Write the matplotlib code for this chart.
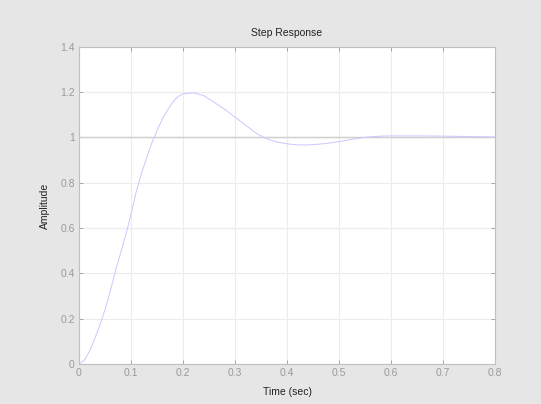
import matplotlib
matplotlib.use("Agg")
import matplotlib.pyplot as plt

time_s = [0, 0.01, 0.02, 0.03, 0.04, 0.05, 0.06, 0.07, 0.08, 0.09, 0.10, 0.11, 0.12,
          0.13, 0.14, 0.15, 0.16, 0.17, 0.18, 0.19, 0.20, 0.22, 0.24, 0.26, 0.28,
          0.30, 0.32, 0.34, 0.36, 0.38, 0.40, 0.42, 0.44, 0.46, 0.48, 0.50, 0.52,
          0.54, 0.56, 0.58, 0.60, 0.65, 0.70, 0.75, 0.80]
amplitude = [0, 0.015, 0.055, 0.11, 0.17, 0.24, 0.32, 0.41, 0.49, 0.57, 0.66, 0.76,
             0.84, 0.91, 0.975, 1.03, 1.08, 1.12, 1.155, 1.18, 1.193, 1.197, 1.185,
             1.155, 1.125, 1.09, 1.055, 1.02, 0.995, 0.98, 0.972, 0.967, 0.967,
             0.970, 0.975, 0.982, 0.990, 0.997, 1.003, 1.006, 1.007, 1.007, 1.006,
             1.004, 1.002]
x_ticks = [0, 0.1, 0.2, 0.3, 0.4, 0.5, 0.6, 0.7, 0.8]
x_tick_labels = ["0", "0.1", "0.2", "0.3", "0.4", "0.5", "0.6", "0.7", "0.8"]
y_ticks = [0, 0.2, 0.4, 0.6, 0.8, 1.0, 1.2, 1.4]
y_tick_labels = ["0", "0.2", "0.4", "0.6", "0.8", "1", "1.2", "1.4"]
final_value = 1.0

plt.rcParams['font.family'] = ['Liberation Sans', 'DejaVu Sans']

fig = plt.figure(figsize=(5.41, 4.04), dpi=100, facecolor='#e6e6e6')
ax = fig.add_axes([0.146, 0.099, 0.769, 0.785])
ax.set_facecolor('white')

ax.grid(True, color='#ececec', linewidth=0.8, linestyle='-')
ax.set_axisbelow(True)
ax.axhline(final_value, color='#cfcfcf', linewidth=1.0, zorder=1.5)
ax.plot(time_s, amplitude, color='#c8c8ff', linewidth=0.7, zorder=2)

ax.set_xlim(0, 0.8)
ax.set_ylim(0, 1.4)
ax.set_xticks(x_ticks)
ax.set_xticklabels(x_tick_labels)
ax.set_yticks(y_ticks)
ax.set_yticklabels(y_tick_labels)
ax.tick_params(direction='in', length=3, width=0.6, color='#999999',
               labelcolor='#9a9a9a', labelsize=7.5, top=True, right=True, pad=3)
for s in ax.spines.values():
    s.set_color('#c0c0c0')
    s.set_linewidth(0.8)

ax.set_title("Step Response", fontsize=7.5, color='#222222', pad=8)
ax.set_xlabel("Time (sec)", fontsize=7.5, color='#222222', labelpad=6)
ax.set_ylabel("Amplitude", fontsize=7.5, color='#222222', labelpad=7)

fig.savefig("out.png", dpi=100, facecolor=fig.get_facecolor())
